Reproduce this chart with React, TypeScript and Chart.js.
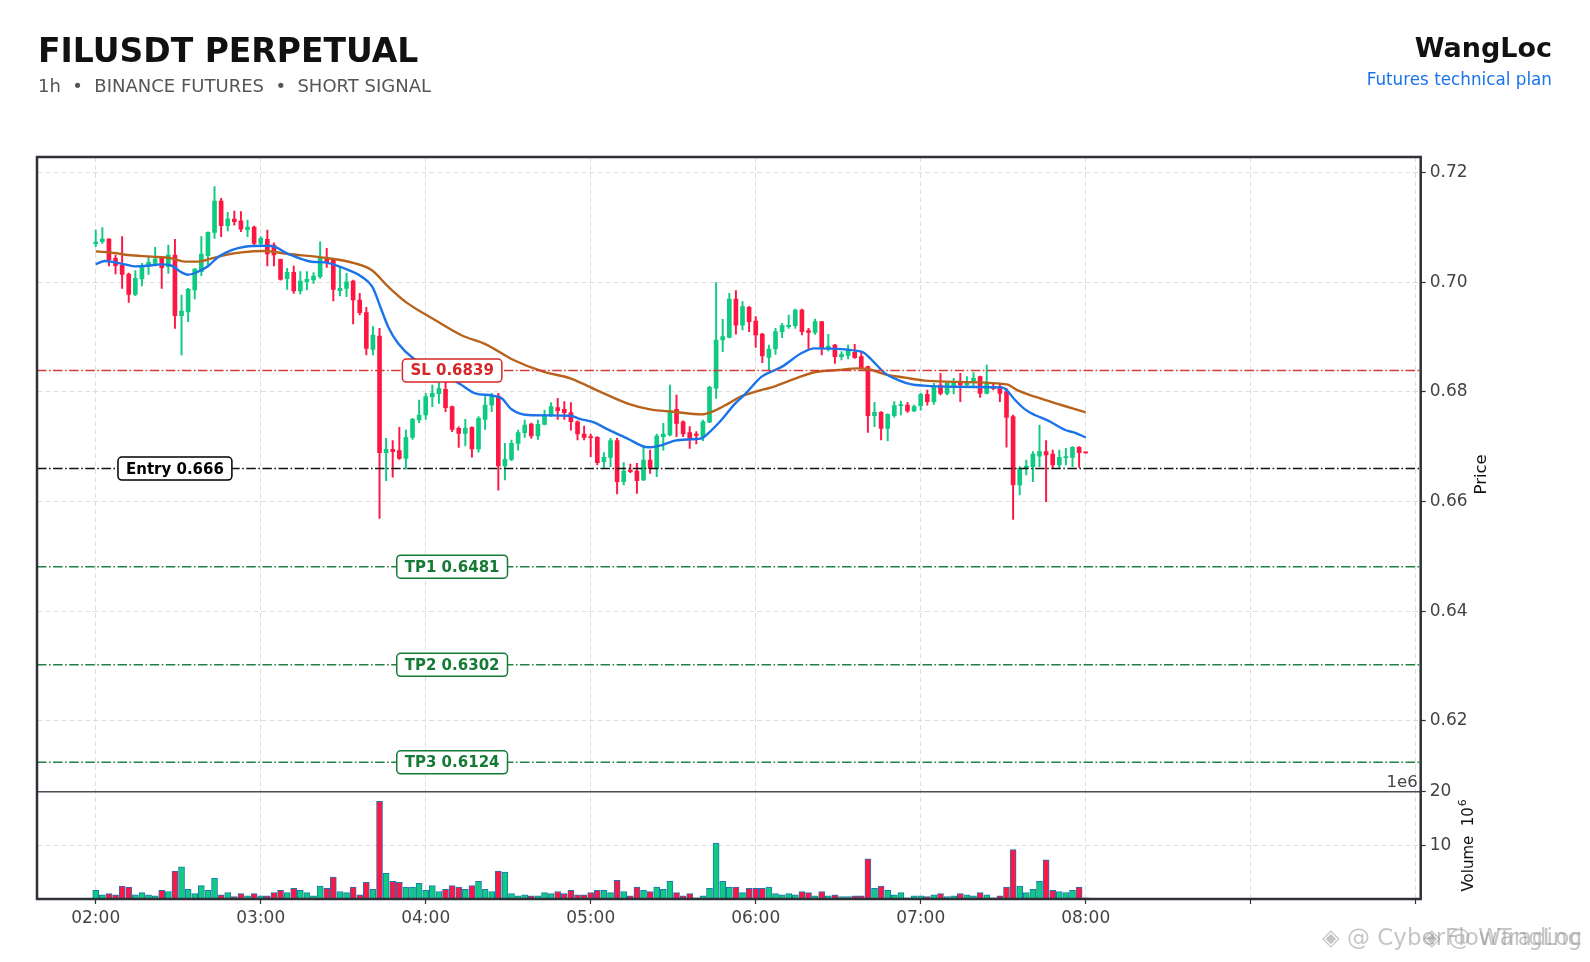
import React, { useEffect, useRef } from 'react';
import { Chart, registerables } from 'chart.js';

Chart.register(...registerables);

// ---------------- data ----------------
const HOUR_LABELS = ['02:00', '03:00', '04:00', '05:00', '06:00', '07:00', '08:00'];
const BARS_PER_HOUR = 25;
const HOUR_TICKS = [0, 1, 2, 3, 4, 5, 6, 7, 8];

const OPEN = [
  0.70705, 0.70741, 0.7079, 0.70437, 0.70316, 0.70151, 0.6978, 0.7006, 0.70315, 0.70346,
  0.70437, 0.70285, 0.70498, 0.6939, 0.6946, 0.6986, 0.70194, 0.70486, 0.70912, 0.71483,
  0.71033, 0.71155, 0.7112, 0.7096, 0.71009, 0.70711, 0.70784, 0.7068, 0.70419, 0.70066,
  0.70182, 0.69841, 0.70011, 0.70042, 0.70103, 0.70419, 0.70419, 0.69847, 0.6989, 0.70024,
  0.69677, 0.69446, 0.68777, 0.69021, 0.66891, 0.66952, 0.66928, 0.66788, 0.67171, 0.67488,
  0.67579, 0.67907, 0.67968, 0.68048, 0.6773, 0.67334, 0.67244, 0.67353, 0.6696, 0.675,
  0.67761, 0.67925, 0.66648, 0.6677, 0.67062, 0.67256, 0.67414, 0.67196, 0.67408, 0.6756,
  0.67712, 0.67682, 0.67621, 0.67456, 0.67232, 0.67183, 0.67171, 0.66727, 0.66806, 0.67111,
  0.66362, 0.66575, 0.66557, 0.66392, 0.66758, 0.66606, 0.67183, 0.67214, 0.67682, 0.67456,
  0.67256, 0.6723, 0.67183, 0.6745, 0.68066, 0.68947, 0.68996, 0.69695, 0.6922, 0.69543,
  0.69292, 0.69056, 0.68631, 0.68783, 0.69099, 0.69191, 0.6921, 0.69494, 0.69117, 0.69087,
  0.69282, 0.68795, 0.68856, 0.68643, 0.68667, 0.68722, 0.68643, 0.6846, 0.67566, 0.67627,
  0.67335, 0.67566, 0.67749, 0.67761, 0.67651, 0.67749, 0.67955, 0.67822, 0.68126, 0.67974,
  0.68083, 0.68187, 0.68126, 0.68169, 0.68278, 0.67974, 0.68096, 0.68083, 0.68005, 0.67548,
  0.66301, 0.66605, 0.66636, 0.66829, 0.66909, 0.66866, 0.66666, 0.668, 0.66806, 0.66988,
  0.66891,
];
const HIGH = [
  0.70955, 0.70997, 0.708, 0.70498, 0.70833, 0.7017, 0.70212, 0.70346, 0.70468, 0.70638,
  0.7045, 0.7068, 0.70784, 0.69769, 0.6989, 0.7025, 0.70833, 0.7092, 0.71745, 0.71532,
  0.71277, 0.71302, 0.7129, 0.71136, 0.71027, 0.70833, 0.70954, 0.7072, 0.70425, 0.70255,
  0.70297, 0.70194, 0.70194, 0.70176, 0.70741, 0.70619, 0.70437, 0.70285, 0.70164, 0.7004,
  0.69799, 0.69543, 0.6919, 0.6916, 0.67153, 0.6711, 0.67354, 0.67305, 0.67518, 0.67853,
  0.67974, 0.68126, 0.68187, 0.68187, 0.6774, 0.67365, 0.67499, 0.67365, 0.67548, 0.67913,
  0.67974, 0.67974, 0.67062, 0.67122, 0.67305, 0.67487, 0.6743, 0.67487, 0.6767, 0.67804,
  0.67882, 0.67822, 0.67804, 0.6747, 0.67378, 0.67232, 0.67183, 0.66891, 0.67153, 0.67153,
  0.66709, 0.66685, 0.66697, 0.67001, 0.6694, 0.67232, 0.67426, 0.68126, 0.67943, 0.6747,
  0.67366, 0.67274, 0.67487, 0.68108, 0.69993, 0.69325, 0.69799, 0.69848, 0.69647, 0.6956,
  0.69373, 0.6907, 0.68856, 0.6916, 0.69251, 0.69404, 0.69513, 0.69513, 0.6916, 0.6933,
  0.6929, 0.6905, 0.68868, 0.68734, 0.68856, 0.68868, 0.68734, 0.6847, 0.6781, 0.6764,
  0.676, 0.67822, 0.67834, 0.6781, 0.67761, 0.67974, 0.68035, 0.68157, 0.68339, 0.68187,
  0.68248, 0.68339, 0.68278, 0.68351, 0.6829, 0.6849, 0.68157, 0.68157, 0.68066, 0.67579,
  0.66636, 0.66758, 0.66909, 0.67395, 0.6711, 0.6694, 0.6694, 0.6697, 0.67001, 0.67001,
  0.669,
];
const LOW = [
  0.7065, 0.70711, 0.70297, 0.70151, 0.6989, 0.69635, 0.69756, 0.69932, 0.70145, 0.70297,
  0.6989, 0.70164, 0.6916, 0.68674, 0.69282, 0.69695, 0.7012, 0.70297, 0.70802, 0.70833,
  0.70936, 0.71045, 0.70924, 0.70833, 0.7065, 0.70668, 0.70297, 0.70297, 0.7004, 0.69872,
  0.69799, 0.69787, 0.6986, 0.6998, 0.70072, 0.70273, 0.69659, 0.6975, 0.69738, 0.69239,
  0.69403, 0.68673, 0.68673, 0.65693, 0.66381, 0.66442, 0.6677, 0.66588, 0.67135, 0.67439,
  0.675, 0.67731, 0.67792, 0.67639, 0.67274, 0.66989, 0.67013, 0.6681, 0.66898, 0.67316,
  0.67639, 0.66209, 0.66392, 0.66745, 0.66939, 0.67171, 0.67153, 0.67135, 0.67396, 0.67548,
  0.67499, 0.67499, 0.67304, 0.67122, 0.67122, 0.66818, 0.66666, 0.66624, 0.66636, 0.66137,
  0.66301, 0.66526, 0.66149, 0.6638, 0.66514, 0.66453, 0.66939, 0.67195, 0.67183, 0.67183,
  0.6697, 0.67049, 0.67111, 0.67438, 0.67883, 0.68734, 0.68984, 0.69056, 0.6913, 0.69099,
  0.68813, 0.68533, 0.68399, 0.68685, 0.6899, 0.6916, 0.6916, 0.69038, 0.68764, 0.69051,
  0.68673, 0.68746, 0.68521, 0.68582, 0.68601, 0.68613, 0.6843, 0.67262, 0.67366, 0.67122,
  0.67104, 0.6754, 0.67579, 0.67627, 0.67639, 0.67669, 0.6776, 0.67773, 0.67943, 0.67944,
  0.67962, 0.67822, 0.68108, 0.68096, 0.67901, 0.67962, 0.68035, 0.67822, 0.6699, 0.65675,
  0.66118, 0.66484, 0.66362, 0.66636, 0.65997, 0.66605, 0.66605, 0.66666, 0.66636, 0.66624,
  0.6688,
];
const CLOSE = [
  0.70735, 0.7079, 0.70407, 0.70304, 0.70145, 0.6978, 0.70072, 0.70267, 0.70364, 0.70425,
  0.70267, 0.70498, 0.6939, 0.69476, 0.69872, 0.70243, 0.70516, 0.70912, 0.71483, 0.71033,
  0.71155, 0.71106, 0.70972, 0.7101, 0.70711, 0.70802, 0.70516, 0.70498, 0.70054, 0.70182,
  0.69841, 0.70024, 0.70054, 0.70115, 0.70437, 0.70376, 0.69872, 0.6989, 0.7001, 0.69677,
  0.69446, 0.68795, 0.69039, 0.66891, 0.66952, 0.6691, 0.66788, 0.67171, 0.675, 0.67579,
  0.67914, 0.67974, 0.6806, 0.67712, 0.67316, 0.67244, 0.67334, 0.6696, 0.67517, 0.67761,
  0.67913, 0.66648, 0.6677, 0.67062, 0.67256, 0.67396, 0.67196, 0.67408, 0.6756, 0.6773,
  0.67657, 0.67621, 0.67456, 0.67232, 0.67171, 0.67165, 0.66709, 0.66806, 0.67111, 0.66362,
  0.66557, 0.66545, 0.6638, 0.66758, 0.66606, 0.67195, 0.67232, 0.67639, 0.67426, 0.67232,
  0.67153, 0.67208, 0.67456, 0.68084, 0.68947, 0.69008, 0.69695, 0.6922, 0.69555, 0.6928,
  0.69038, 0.68655, 0.68783, 0.69099, 0.6921, 0.6921, 0.69494, 0.69099, 0.69087, 0.69282,
  0.68795, 0.68838, 0.68643, 0.68686, 0.68764, 0.68625, 0.68442, 0.67566, 0.67627, 0.67335,
  0.67591, 0.67749, 0.67761, 0.67651, 0.6773, 0.67955, 0.67822, 0.681, 0.67974, 0.68156,
  0.68156, 0.68126, 0.68187, 0.68248, 0.67974, 0.68156, 0.68065, 0.67974, 0.67536, 0.66301,
  0.66605, 0.66648, 0.66866, 0.66909, 0.66848, 0.66666, 0.66806, 0.66818, 0.66988, 0.66891,
  0.66885,
];
// volume in millions
const VOLUME = [
  1.6, 0.8, 1.0, 0.8, 2.4, 2.2, 0.8, 1.2, 0.8, 0.6,
  1.6, 1.4, 5.2, 6.0, 1.8, 1.0, 2.5, 1.6, 3.9, 0.8,
  1.2, 0.45, 1.0, 0.6, 1.0, 0.6, 0.6, 1.2, 1.6, 1.2,
  2.0, 1.6, 1.2, 0.6, 2.4, 2.0, 4.1, 1.4, 1.2, 2.2,
  0.8, 3.1, 1.8, 18.2, 4.8, 3.3, 3.1, 2.2, 2.2, 2.9,
  1.6, 2.5, 1.4, 1.8, 2.5, 2.2, 1.8, 2.5, 3.3, 1.8,
  1.4, 5.2, 5.0, 1.0, 0.6, 0.8, 0.6, 0.6, 1.2, 1.0,
  1.4, 1.0, 1.6, 0.8, 0.8, 1.2, 1.6, 1.6, 1.2, 3.5,
  1.4, 0.6, 2.2, 1.6, 1.4, 2.2, 1.8, 3.3, 1.2, 0.6,
  1.0, 0.2, 0.6, 2.0, 10.4, 3.3, 2.2, 2.2, 1.2, 2.0,
  2.0, 2.0, 2.2, 1.0, 0.8, 1.0, 0.8, 1.4, 1.2, 0.6,
  1.4, 0.6, 0.8, 0.45, 0.45, 0.6, 0.6, 7.5, 2.0, 2.4,
  1.6, 0.8, 1.2, 0.2, 0.6, 0.6, 0.45, 0.8, 1.0, 0.45,
  0.6, 1.0, 0.8, 0.6, 1.2, 0.8, 0.2, 0.6, 2.2, 9.2,
  2.4, 1.2, 1.8, 3.3, 7.3, 1.6, 1.4, 1.2, 1.6, 2.2,
  0.2,
];

// moving averages: [bar index, price]
const FAST_MA: [number, number][] = [
  [0, 0.70334], [1.4, 0.70389], [2.9, 0.70364], [4.4, 0.70328], [6, 0.70291], [8, 0.70304],
  [10, 0.70328], [11.5, 0.70304], [13, 0.70182], [14, 0.70139], [15.5, 0.70194], [17.1, 0.70304],
  [18.6, 0.70468], [20.6, 0.70589], [22.6, 0.7065], [25.6, 0.70668], [26.7, 0.70662], [29.2, 0.70516],
  [32.7, 0.70376], [34.7, 0.70364], [36.3, 0.70315], [38.3, 0.70224], [40.3, 0.70103], [41.9, 0.69921],
  [43.3, 0.69495], [44.3, 0.69191], [45.8, 0.68887], [48.1, 0.68613], [51, 0.6843], [54.2, 0.68217],
  [55.2, 0.68144], [57.5, 0.67974], [60, 0.67935], [61.5, 0.67883], [63, 0.67682], [65.5, 0.67578],
  [71.8, 0.67565], [73.6, 0.675], [75.5, 0.67445], [77.5, 0.6732], [80.5, 0.67153], [83.7, 0.66989],
  [85.8, 0.6703], [87.8, 0.6711], [90.3, 0.67135], [91.8, 0.67153], [92.8, 0.67244], [94.8, 0.67487],
  [96.9, 0.67791], [98.4, 0.67961], [100.9, 0.68278], [102.9, 0.68399], [104, 0.68461], [106.9, 0.68705],
  [108.9, 0.68795], [116, 0.68734], [117.6, 0.68582], [119.6, 0.68339], [121.6, 0.68217], [123.6, 0.68138],
  [125.6, 0.68114], [128.7, 0.68096], [137.3, 0.68083], [138, 0.68035], [139.3, 0.67852], [140.8, 0.67682],
  [142.3, 0.67579], [144.3, 0.67475], [146.9, 0.67305], [148.3, 0.67256], [150, 0.67171],
];
const SLOW_MA: [number, number][] = [
  [0, 0.70565], [2.9, 0.70535], [4.9, 0.70498], [8.5, 0.70468], [11.5, 0.70437], [13.5, 0.70377],
  [15.5, 0.70377], [17.6, 0.70437], [19.6, 0.70498], [22.1, 0.70547], [25.6, 0.70571], [29.2, 0.70516],
  [34.2, 0.70456], [39.3, 0.70346], [41.8, 0.70224], [44.3, 0.69921], [46.9, 0.69647], [51.4, 0.69312],
  [55.5, 0.6903], [59.1, 0.68869], [63.3, 0.68582], [67.8, 0.68369], [71.9, 0.68248], [76.4, 0.68004],
  [80.5, 0.67792], [84, 0.67682], [87.5, 0.67639], [91.8, 0.6759], [93.8, 0.67658], [95.9, 0.67791],
  [97.9, 0.67925], [100, 0.68004], [103, 0.68107], [106.4, 0.6826], [108.9, 0.68358], [112.5, 0.684],
  [115.5, 0.6843], [117, 0.68418], [119.6, 0.68321], [122.6, 0.6826], [125.6, 0.68205], [128.7, 0.68187],
  [138, 0.68138], [139.8, 0.68022], [142.3, 0.67913], [146.3, 0.67761], [150, 0.67627],
];

const LEVEL_NAMES = ['SL', 'Entry', 'TP1', 'TP2', 'TP3'];
const LEVEL_VALUES = [0.6839, 0.666, 0.6481, 0.6302, 0.6124];
const LEVEL_LABEL_AT = [54, 12, 54, 54, 54]; // bar index where the tag sits

const PRICE_TICKS = [0.62, 0.64, 0.66, 0.68, 0.7, 0.72];
const VOLUME_TICKS = [10, 20];

// ---------------- view settings ----------------
const X_MIN = -8.9;
const X_MAX = 200.76;
const PRICE_MIN = 0.60704;
const PRICE_MAX = 0.72287;
const VOL_MIN = 0;
const VOL_MAX = 20;

const UP = '#0ecb81';
const DOWN = '#ff1744';
const FAST_COLOR = '#1a73e8';
const SLOW_COLOR = '#b8621b';
const LEVEL_LINE_COLORS = ['#d63a36', '#111111', '#238043', '#238043', '#238043'];
const LEVEL_TEXT_COLORS = ['#d62728', '#000000', '#157a35', '#157a35', '#157a35'];
const FONT = '"DejaVu Sans", sans-serif';
const GRID = '#dedede';

const decorPlugin = {
  id: 'decor',
  afterDatasetsDraw(chart: any) {
    const { ctx, scales } = chart;
    const xs = scales.x;
    const ys = scales.y;
    ctx.save();
    ctx.font = `bold 15px ${FONT}`;
    ctx.textAlign = 'center';
    ctx.textBaseline = 'middle';
    LEVEL_VALUES.forEach((v, k) => {
      const text = `${LEVEL_NAMES[k]} ${v}`;
      const cx = xs.getPixelForValue(LEVEL_LABEL_AT[k]);
      const cy = ys.getPixelForValue(v);
      const w = ctx.measureText(text).width + 16;
      const h = 23;
      ctx.beginPath();
      ctx.roundRect(cx - w / 2, cy - h / 2, w, h, 4);
      ctx.fillStyle = '#ffffff';
      ctx.fill();
      ctx.lineWidth = 1.5;
      ctx.strokeStyle = LEVEL_TEXT_COLORS[k];
      ctx.stroke();
      ctx.fillStyle = LEVEL_TEXT_COLORS[k];
      ctx.fillText(text, cx, cy + 1);
    });
    ctx.restore();
  },
  afterDraw(chart: any) {
    const { ctx, chartArea: a, scales } = chart;
    const yv = scales.yVol;
    const ys = scales.y;
    ctx.save();
    // panel separator
    ctx.strokeStyle = '#4a4d52';
    ctx.lineWidth = 1.5;
    ctx.beginPath();
    ctx.moveTo(a.left, yv.top);
    ctx.lineTo(a.right, yv.top);
    ctx.stroke();
    // frame
    ctx.strokeStyle = '#2e3138';
    ctx.lineWidth = 2.5;
    ctx.strokeRect(a.left, a.top, a.right - a.left, a.bottom - a.top);
    // offset text
    ctx.fillStyle = '#444444';
    ctx.font = `16.5px ${FONT}`;
    ctx.textAlign = 'right';
    ctx.textBaseline = 'alphabetic';
    ctx.fillText('1e6', a.right - 3, yv.top - 5);
    // Price title
    ctx.save();
    ctx.translate(a.right + 61, (ys.top + ys.bottom) / 2);
    ctx.rotate(-Math.PI / 2);
    ctx.fillStyle = '#111111';
    ctx.font = `16.5px ${FONT}`;
    ctx.textAlign = 'center';
    ctx.textBaseline = 'middle';
    ctx.fillText('Price', 0, 0);
    ctx.restore();
    // Volume title with exponent
    ctx.save();
    ctx.translate(a.right + 48, (yv.top + yv.bottom) / 2);
    ctx.rotate(-Math.PI / 2);
    ctx.fillStyle = '#111111';
    ctx.textBaseline = 'middle';
    ctx.textAlign = 'left';
    const mainText = 'Volume  10';
    ctx.font = `15px ${FONT}`;
    const w1 = ctx.measureText(mainText).width;
    ctx.font = `11px ${FONT}`;
    const w2 = ctx.measureText('6').width;
    const gap = 1;
    const start = -(w1 + gap + w2) / 2;
    ctx.font = `15px ${FONT}`;
    ctx.fillText(mainText, start, 0);
    ctx.font = `11px ${FONT}`;
    ctx.fillText('6', start + w1 + gap, -6);
    ctx.restore();
    ctx.restore();
  },
};

export default function App() {
  const canvasRef = useRef<HTMLCanvasElement | null>(null);

  useEffect(() => {
    const canvas = canvasRef.current;
    if (!canvas) return;
    const idx = OPEN.map((_, i) => i);
    const colors = idx.map((i) => (CLOSE[i] >= OPEN[i] ? UP : DOWN));

    const levelSets = LEVEL_VALUES.map((v, k) => ({
      type: 'line' as const,
      label: LEVEL_NAMES[k],
      data: [
        { x: X_MIN, y: v },
        { x: X_MAX, y: v },
      ],
      yAxisID: 'y',
      borderColor: LEVEL_LINE_COLORS[k],
      borderWidth: 1.5,
      borderDash: [9.5, 2.5, 1.6, 2.5],
      pointRadius: 0,
      order: 0,
    }));

    const gridOpts = {
      color: GRID,
      lineWidth: 1,
      tickLength: 5,
      tickColor: '#333333',
      tickWidth: 1.2,
      offset: false,
    };

    const chart = new Chart(canvas, {
      type: 'bar',
      data: {
        datasets: [
          ...levelSets,
          {
            type: 'line',
            label: 'fast',
            data: FAST_MA.map(([x, y]) => ({ x, y })),
            yAxisID: 'y',
            borderColor: FAST_COLOR,
            borderWidth: 2.4,
            pointRadius: 0,
            cubicInterpolationMode: 'monotone',
            order: 1,
          },
          {
            type: 'line',
            label: 'slow',
            data: SLOW_MA.map(([x, y]) => ({ x, y })),
            yAxisID: 'y',
            borderColor: SLOW_COLOR,
            borderWidth: 2.4,
            pointRadius: 0,
            cubicInterpolationMode: 'monotone',
            order: 2,
          },
          {
            type: 'bar',
            label: 'body',
            data: idx.map((i) => ({ x: i, y: [OPEN[i], CLOSE[i]] })),
            yAxisID: 'y',
            backgroundColor: colors,
            grouped: false,
            barPercentage: 1,
            categoryPercentage: 1,
            maxBarThickness: 4,
            minBarLength: 1.2,
            order: 3,
          },
          {
            type: 'bar',
            label: 'wick',
            data: idx.map((i) => ({ x: i, y: [LOW[i], HIGH[i]] })),
            yAxisID: 'y',
            backgroundColor: colors,
            grouped: false,
            barPercentage: 1,
            categoryPercentage: 1,
            maxBarThickness: 1.3,
            order: 4,
          },
          {
            type: 'bar',
            label: 'volume',
            data: idx.map((i) => ({ x: i, y: VOLUME[i] })),
            yAxisID: 'yVol',
            backgroundColor: colors,
            borderColor: '#1f77b4',
            borderWidth: 1,
            borderSkipped: false,
            grouped: false,
            barPercentage: 1,
            categoryPercentage: 1,
            maxBarThickness: 6,
            order: 5,
          },
        ] as any,
      },
      options: {
        animation: false,
        responsive: false,
        maintainAspectRatio: false,
        layout: { padding: { left: 37, top: 157, right: 1590 - 1420.7 - 60, bottom: 962 - 899 - 40 } },
        plugins: { legend: { display: false }, tooltip: { enabled: false }, title: { display: false } },
        scales: {
          x: {
            type: 'linear',
            min: X_MIN,
            max: X_MAX,
            offset: false,
            afterBuildTicks: (axis: any) => {
              axis.ticks = HOUR_TICKS.map((h) => ({ value: h * BARS_PER_HOUR }));
            },
            afterFit: (axis: any) => {
              axis.height = 40;
            },
            ticks: {
              autoSkip: false,
              maxRotation: 0,
              padding: 4,
              color: '#444444',
              font: { family: FONT, size: 17 },
              callback: (v: any) => {
                const h = Math.round(Number(v) / BARS_PER_HOUR);
                return HOUR_LABELS[h] ?? '';
              },
            },
            grid: gridOpts,
            border: { display: false, dash: [5, 3] },
          },
          y: {
            type: 'linear',
            position: 'right',
            stack: 'panels',
            stackWeight: 634.7,
            min: PRICE_MIN,
            max: PRICE_MAX,
            afterBuildTicks: (axis: any) => {
              axis.ticks = PRICE_TICKS.map((v) => ({ value: v }));
            },
            afterFit: (axis: any) => {
              axis.width = 60;
            },
            ticks: {
              autoSkip: false,
              padding: 4,
              color: '#444444',
              font: { family: FONT, size: 17 },
              callback: (v: any) => Number(v).toFixed(2),
            },
            grid: gridOpts,
            border: { display: false, dash: [5, 3] },
          },
          yVol: {
            type: 'linear',
            position: 'right',
            stack: 'panels',
            stackWeight: 107.3,
            min: VOL_MIN,
            max: VOL_MAX,
            afterBuildTicks: (axis: any) => {
              axis.ticks = VOLUME_TICKS.map((v) => ({ value: v }));
            },
            afterFit: (axis: any) => {
              axis.width = 60;
            },
            ticks: {
              autoSkip: false,
              padding: 4,
              color: '#444444',
              font: { family: FONT, size: 17 },
              callback: (v: any) => String(v),
            },
            grid: gridOpts,
            border: { display: false, dash: [5, 3] },
          },
        },
      } as any,
      plugins: [decorPlugin],
    });
    return () => chart.destroy();
  }, []);

  return (
    <div
      style={{
        position: 'fixed',
        left: 0,
        top: 0,
        width: 1590,
        height: 962,
        background: '#ffffff',
        overflow: 'hidden',
        fontFamily: FONT,
      }}
    >
      <canvas
        ref={canvasRef}
        width={1590}
        height={962}
        style={{ position: 'absolute', left: 0, top: 0, width: 1590, height: 962 }}
      />
      <div
        style={{
          position: 'absolute',
          left: 38,
          top: 34,
          fontSize: 33,
          lineHeight: '33px',
          fontWeight: 700,
          color: '#111111',
          whiteSpace: 'pre',
        }}
      >
        FILUSDT PERPETUAL
      </div>
      <div
        style={{
          position: 'absolute',
          left: 38,
          top: 77,
          fontSize: 18,
          lineHeight: '18px',
          color: '#555555',
          whiteSpace: 'pre',
        }}
      >
        {'1h  •  BINANCE FUTURES  •  SHORT SIGNAL'}
      </div>
      <div
        style={{
          position: 'absolute',
          right: 38,
          top: 34,
          fontSize: 27,
          lineHeight: '27px',
          fontWeight: 700,
          color: '#111111',
          whiteSpace: 'pre',
        }}
      >
        WangLoc
      </div>
      <div
        style={{
          position: 'absolute',
          right: 38,
          top: 71,
          fontSize: 16.8,
          lineHeight: '16.8px',
          color: '#1a73e8',
          whiteSpace: 'pre',
        }}
      >
        Futures technical plan
      </div>
      <div
        style={{
          position: 'absolute',
          right: 8,
          top: 926,
          fontSize: 23,
          lineHeight: '23px',
          color: 'rgba(150,150,150,0.55)',
          whiteSpace: 'pre',
        }}
      >
        {'◈ @ CyberFlowTrading'}
      </div>
      <div
        style={{
          position: 'absolute',
          right: 8,
          top: 926,
          fontSize: 23,
          lineHeight: '23px',
          color: 'rgba(150,150,150,0.55)',
          whiteSpace: 'pre',
        }}
      >
        {'◈ @ WangLoc'}
      </div>
    </div>
  );
}
